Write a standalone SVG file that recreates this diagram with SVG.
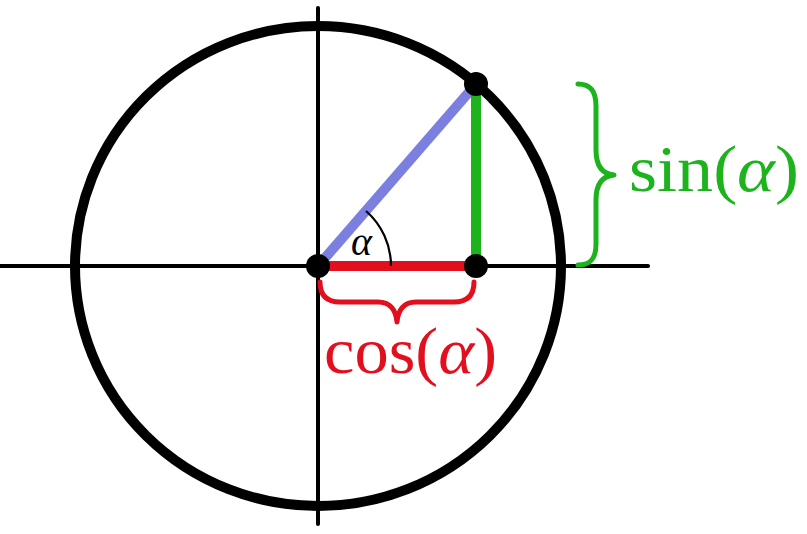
<svg xmlns="http://www.w3.org/2000/svg" width="807" height="534" viewBox="0 0 807 534">
<style>
.axis{stroke:#000;stroke-width:4;stroke-linecap:round;fill:none}
.circ{stroke:#000;stroke-width:10;fill:none}
.seg{stroke-width:10;fill:none}
.brace{stroke-width:5;fill:none;stroke-linecap:round;stroke-linejoin:round}
.lbl{font-family:"Liberation Serif","DejaVu Serif",serif}
.it{font-style:italic}
</style>
<rect width="807" height="534" fill="#fff"/>
<g id="axes">
<line class="axis" x1="0" y1="266" x2="648" y2="266"/>
<line class="axis" x1="318" y1="8" x2="318" y2="524"/>
</g>
<g id="circle">
<ellipse class="circ" cx="318" cy="266" rx="243" ry="240"/>
</g>
<g id="segments">
<line class="seg" x1="318" y1="266" x2="476" y2="84" stroke="#7b80e0"/>
<line class="seg" x1="476" y1="84" x2="476" y2="266" stroke="#1db31d"/>
<line class="seg" x1="318" y1="266" x2="476" y2="266" stroke="#e2101f"/>
</g>
<g id="angle">
<path d="M391,266 A73,73 0 0 0 366,211" stroke="#000" stroke-width="2.2" fill="none"/>
<text class="lbl it" x="351" y="255" font-size="40">α</text>
</g>
<g id="points">
<circle cx="318" cy="266" r="12" fill="#000"/>
<circle cx="476" cy="266" r="12" fill="#000"/>
<circle cx="476" cy="84" r="12" fill="#000"/>
</g>
<g id="sin">
<path class="brace" stroke="#1db31d" d="M578,84 C591,84 596,92 596,106 L596,150 C596,166 602,174 614,175 C602,176 596,184 596,200 L596,244 C596,258 591,265 578,265"/>
<text class="lbl" x="629" y="191" font-size="66" fill="#1db31d" textLength="170" lengthAdjust="spacingAndGlyphs">sin(<tspan class="it">α</tspan>)</text>
</g>
<g id="cos">
<path class="brace" stroke="#e2101f" d="M320,282 C320,295 326,302 340,302 L378,302 C390,302 396,310 397,322 C398,310 404,302 416,302 L454,302 C468,302 474,295 474,282"/>
<text class="lbl" x="324" y="373" font-size="66" fill="#e2101f" textLength="173" lengthAdjust="spacingAndGlyphs">cos(<tspan class="it">α</tspan>)</text>
</g>
</svg>
